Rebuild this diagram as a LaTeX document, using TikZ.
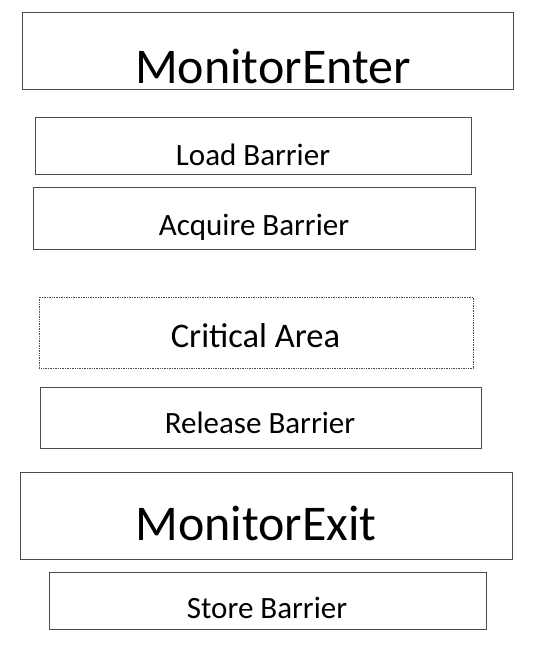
\documentclass[tikz,border=0pt]{standalone}
\usepackage{fontspec}
\setmainfont{Carlito}
\begin{document}
\begin{tikzpicture}[x=1pt,y=-1pt,
  box/.style={draw=black!70,line width=0.9pt},
  dotbox/.style={draw=black!70,line width=0.7pt,densely dotted},
  big/.style={anchor=base,font=\fontsize{50}{54}\selectfont,inner sep=0pt},
  small/.style={anchor=base,font=\fontsize{31}{34}\selectfont,inner sep=0pt},
  mid/.style={anchor=base,font=\fontsize{34.5}{38}\selectfont,inner sep=0pt}]
\useasboundingbox (0,0) rectangle (553,648);
\draw[box] (22,12) rectangle (513,89);
\node[big] (enter) at (273,83) {MonitorEnter};
\draw[box] (35,117) rectangle (471,174);
\node[small] (load) at (253,165) {Load Barrier};
\draw[box] (33,187) rectangle (475,249);
\node[small] (acq) at (254,235) {Acquire Barrier};
\draw[dotbox] (39,297) rectangle (473,368);
\node[mid] (crit) at (255.5,347) {Critical Area};
\draw[box] (40,387) rectangle (481,448);
\node[small] (rel) at (260,433) {Release Barrier};
\draw[box] (20,472) rectangle (512,559);
\node[big] (exit) at (256,540) {MonitorExit};
\draw[box] (49,572) rectangle (486,629);
\node[small] (store) at (267,618) {Store Barrier};
\end{tikzpicture}
\end{document}
